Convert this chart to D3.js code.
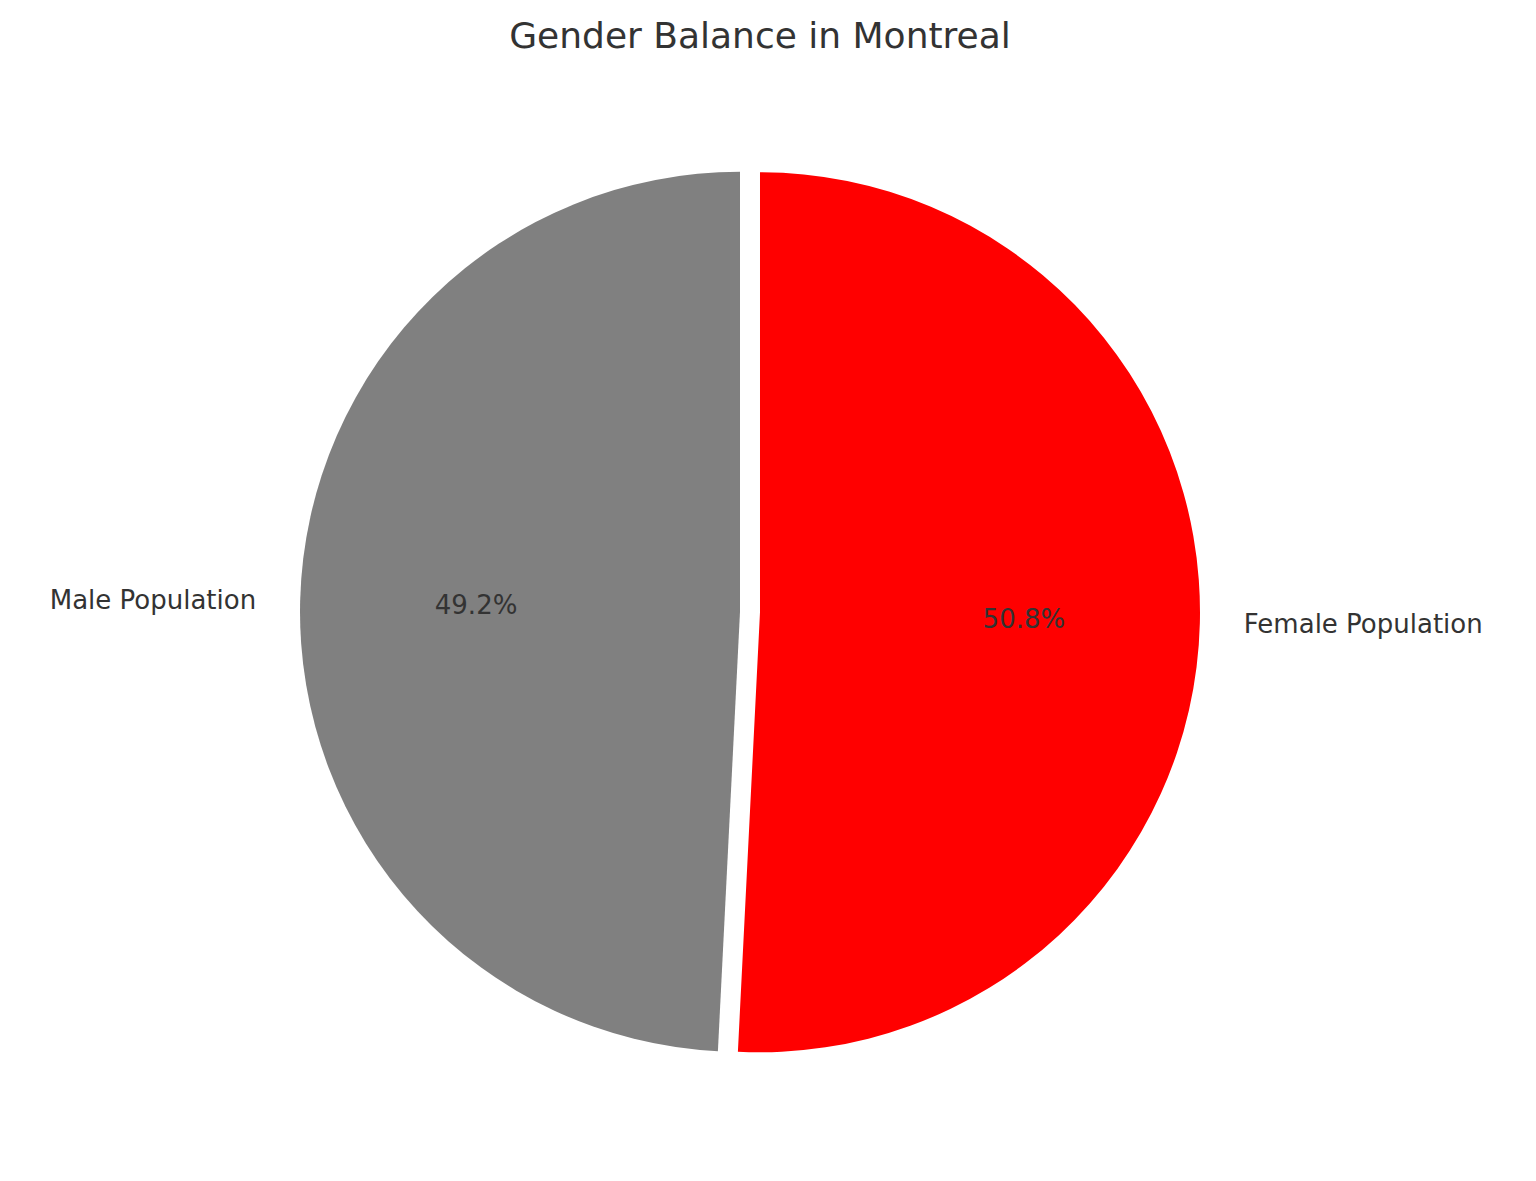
<!DOCTYPE html>
<html>
<head>
<meta charset="utf-8">
<script src="https://cdn.jsdelivr.net/npm/d3@7"></script>
<style>
  body { margin: 0; background: #fff; }
  text { font-family: "DejaVu Sans", sans-serif; fill: #333; }
</style>
</head>
<body>
<svg id="chart" width="1536" height="1181"></svg>
<script>
// data
var labels = ["Female Population", "Male Population"];
var values = [50.8, 49.2];
var colors = ["#ff0000", "#808080"];

var svg = d3.select("#chart");
var cx = 750, cy = 612, r = 440, explode = 10;

svg.append("text")
    .attr("x", 760).attr("y", 48)
    .attr("text-anchor", "middle")
    .style("font-size", "36px")
    .text("Gender Balance in Montreal");

var pie = d3.pie().sort(null).value(function (d) { return d; });
var arcs = pie(values);
var arc = d3.arc().innerRadius(0).outerRadius(r);

var g = svg.append("g").attr("transform", "translate(" + cx + "," + cy + ")");

arcs.forEach(function (a, i) {
    var mid = (a.startAngle + a.endAngle) / 2;
    var dx = Math.sin(mid) * explode, dy = -Math.cos(mid) * explode;
    var s = g.append("g").attr("transform", "translate(" + dx + "," + dy + ")");
    s.append("path").attr("d", arc(a)).attr("fill", colors[i]);

    // percentage label
    s.append("text")
        .attr("x", Math.sin(mid) * r * 0.6)
        .attr("y", -Math.cos(mid) * r * 0.6)
        .attr("text-anchor", "middle")
        .attr("dominant-baseline", "central")
        .style("font-size", "26px")
        .text(values[i].toFixed(1) + "%");

    // category label
    var lx = Math.sin(mid) * r * 1.1, ly = -Math.cos(mid) * r * 1.1;
    s.append("text")
        .attr("x", lx).attr("y", ly)
        .attr("text-anchor", lx > 0 ? "start" : "end")
        .attr("dominant-baseline", "central")
        .style("font-size", "26px")
        .text(labels[i]);
});
</script>
</body>
</html>
